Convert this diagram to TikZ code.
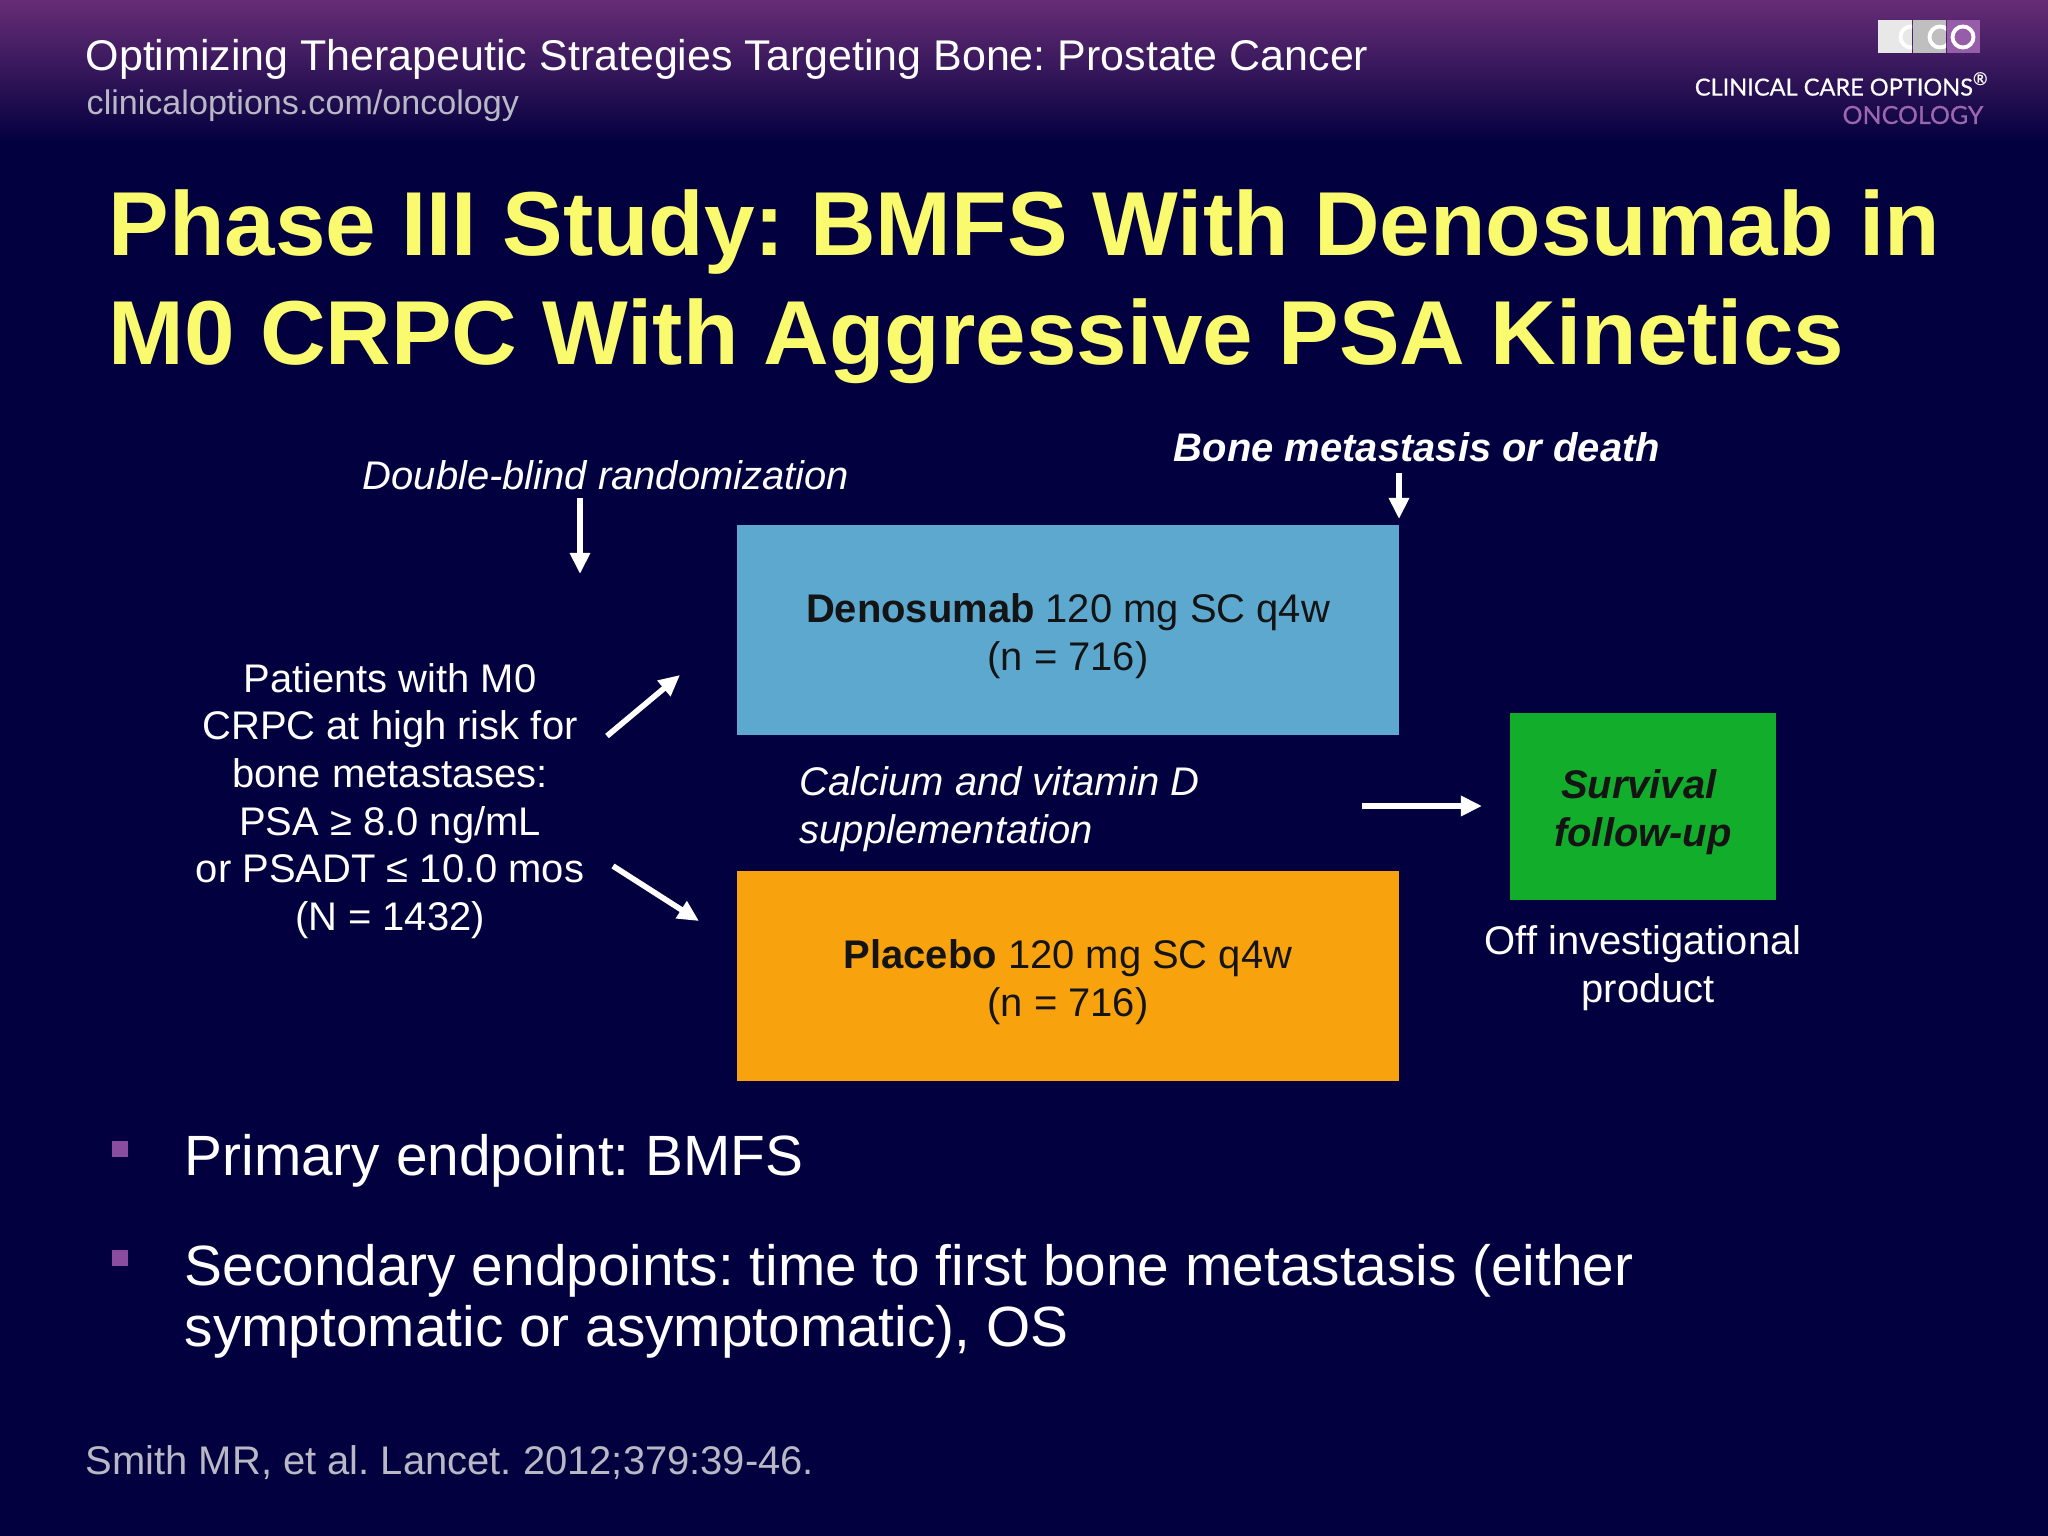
\documentclass[tikz,border=0pt]{standalone}
\usepackage{fontspec}
\setmainfont{Liberation Sans}
\newfontfamily\logofont[FakeBold=0.5]{Lato}
\usetikzlibrary{positioning, arrows.meta}
\frenchspacing

\definecolor{navy}{HTML}{03003F}
\definecolor{topviolet}{HTML}{672D76}
\definecolor{titleyellow}{HTML}{FAFA6E}
\definecolor{boxblue}{HTML}{5CA8CF}
\definecolor{boxorange}{HTML}{F8A30D}
\definecolor{boxgreen}{HTML}{12AD2B}
\definecolor{bulletviolet}{HTML}{8A4C9F}
\definecolor{softgrey}{HTML}{B9B9C6}

\newcommand{\unit}{*0.01cm}
\tikzset{
    pxfont/.style={font=\fontsize{#1}{#1}\selectfont},
    label/.style={text=white, align=center, inner sep=0pt, font=\fontsize{11.36}{13.57}\selectfont},
    armbox/.style={minimum width=662\unit, minimum height=210\unit, inner sep=0pt, text=black!92, align=center, text height=25.4pt, font=\fontsize{11.36}{13.57}\selectfont},
    whitearrow/.style={draw=white, line width=1.6pt, -{Triangle[length=6pt, width=5.5pt]}},
    bulletbox/.style={fill=bulletviolet, minimum size=16\unit, inner sep=0pt},
    bullettext/.style={text=white, anchor=north west, align=left, inner sep=0pt, font=\fontsize{16.15}{17.3}\selectfont},
}

\begin{document}
\begin{tikzpicture}[x=0.01cm, y=-0.01cm]
\useasboundingbox (0,0) rectangle (2048,1536);
\fill[navy] (0,0) rectangle (2048,1536);
\shade[top color=topviolet, bottom color=navy] (0,0) rectangle (2048,142);

% header
\node[anchor=west, text=white, inner sep=0pt, pxfont=12.22] (head) at (85,59) {Optimizing Therapeutic Strategies Targeting Bone: Prostate Cancer};
\node[anchor=west, text=softgrey, inner sep=0pt, pxfont=9.7] (site) at (86,106) {clinicaloptions.com/oncology};

% logo
\fill[white!82!gray] (1878,20) rectangle (1912,53);
\fill[white!50!gray] (1912.5,20) rectangle (1946,53);
\fill[bulletviolet!90!white] (1946.5,20) rectangle (1980,53);
\begin{scope}
\clip (1878,20) rectangle (1912,53);
\draw[white, line width=1.1pt] (1911,37) circle (10.5);
\end{scope}
\begin{scope}
\clip (1912.5,20) rectangle (1946,53);
\draw[white, line width=1.1pt] (1940,37) circle (10.5);
\end{scope}
\draw[white, line width=1.1pt] (1963,37) circle (10.5);
\node[anchor=east, text=white, inner sep=0pt, pxfont=6.7] (cco) at (1990,84) {\logofont CLINICAL CARE OPTIONS\textsuperscript{\tiny ®}};
\node[anchor=east, text=bulletviolet!85!white, inner sep=0pt, pxfont=7.1] (onc) at (1984,115) {\logofont ONCOLOGY};

% title
\node[anchor=base west, text=titleyellow, inner sep=0pt, pxfont=25.83] (title1) at (108,255) {\bfseries Phase III Study: BMFS With Denosumab in};
\node[anchor=base west, text=titleyellow, inner sep=0pt, pxfont=25.83] (title2) at (108,364) {\bfseries M0 CRPC With Aggressive PSA Kinetics};

% trial
\node[armbox, fill=boxblue]   (deno) at (1068,630) {\textbf{Denosumab} 120 mg SC q4w\\(n = 716)};
\node[armbox, fill=boxorange] (plac) at (1068,976) {\textbf{Placebo} 120 mg SC q4w\\(n = 716)};
\node[armbox, fill=boxgreen, minimum width=266\unit, minimum height=187\unit] (surv) at (1643,806) {\textit{\textbf{Survival}}\hspace*{2.2pt}\\\textit{\textbf{follow-up}}};

\node[label] (pts) at (390,801) {Patients with M0\\CRPC at high risk for\\bone metastases:\\PSA ≥ 8.0 ng/mL\hspace*{5pt}\\or PSADT ≤ 10.0 mos\\(N = 1432)};
\node[label, font=\fontsize{11.36}{13.57}\selectfont\itshape] (rand) at (606,475) {Double-blind randomization};
\node[label, font=\fontsize{11.36}{13.57}\selectfont\itshape\bfseries] (event) at (1417,447) {Bone metastasis or death};
\node[label, align=left, anchor=west, font=\fontsize{11.36}{13.57}\selectfont\itshape] (calc) at (799,809) {Calcium and vitamin D\\supplementation};
\node[label] (off) at (1643,968) {Off investigational\\\hspace*{2.9pt}product};

\coordinate (randTop) at (580,498);
\coordinate (randEnd) at (580,574);
\coordinate (eventTop) at (1399,473);
\coordinate (eventEnd) at (1399,519);
\coordinate (upStart) at (607,736);
\coordinate (upEnd) at (680,675);
\coordinate (downStart) at (613,866);
\coordinate (downEnd) at (699,921);
\coordinate (calcStart) at (1362,806);
\coordinate (calcEnd) at (1482,806);

\draw[whitearrow] (randTop) -- (randEnd);
\draw[whitearrow] (eventTop) -- (eventEnd);
\draw[whitearrow] (upStart) -- (upEnd);
\draw[whitearrow] (downStart) -- (downEnd);
\draw[whitearrow] (calcStart) -- (calcEnd);

% endpoints
\node[bulletbox] (b1) at (120,1149) {};
\node[bulletbox] (b2) at (120,1258) {};
\node[bullettext] (prim) at (184,1133.5) {Primary endpoint: BMFS};
\node[bullettext] (sec) at (184,1243.5) {Secondary endpoints: time to first bone metastasis (either\\symptomatic or asymptomatic), OS};

\node[anchor=west, text=softgrey, inner sep=0pt, pxfont=11.36] (ref) at (85,1463) {Smith MR, et al. Lancet. 2012;379:39-46.};
\end{tikzpicture}
\end{document}
